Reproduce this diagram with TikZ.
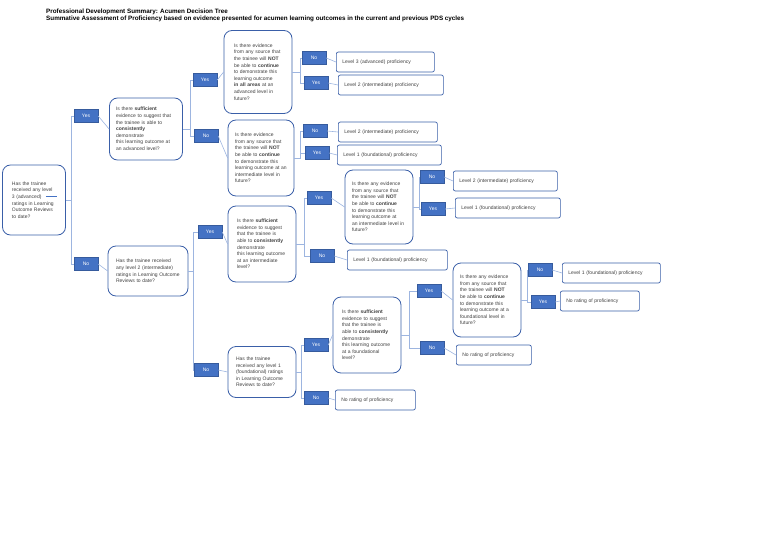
\documentclass[tikz,border=0pt]{standalone}
\usepackage{fontspec}
\setmainfont{Liberation Sans}
\hyphenpenalty=10000
\exhyphenpenalty=10000
\definecolor{ynblue}{HTML}{4472C4}
\definecolor{edge}{HTML}{3A5FA8}
\definecolor{lineblue}{HTML}{9DB5E0}
\definecolor{txt}{HTML}{404040}
\begin{document}
\begin{tikzpicture}[x=1pt,y=-1pt,
 q/.style={draw=edge,line width=0.8pt,rounded corners=8pt,align=left,text=txt,font=\fontsize{5}{6.6}\selectfont,inner sep=4pt},
 res/.style={draw=edge,line width=0.7pt,rounded corners=2pt,align=left,text=txt,font=\fontsize{5}{6.4}\selectfont,inner xsep=6pt,anchor=west,minimum height=20pt},
 yn/.style={fill=ynblue,draw=ynblue!80!black,text=white,minimum width=24pt,minimum height=13pt,inner sep=0pt,font=\fontsize{5}{6}\selectfont},
 ln/.style={draw=lineblue,line width=0.6pt}]
\useasboundingbox (0,0) rectangle (768,543);
\node[anchor=north west,align=left,font=\bfseries\fontsize{6.3}{7.2}\selectfont,inner sep=0pt] (title) at (46,9) {Professional Development Summary: Acumen Decision Tree\\Summative Assessment of Proficiency based on evidence presented for acumen learning outcomes in the current and previous PDS cycles};
% questions
\node[q,minimum width=63pt,minimum height=70pt,text width=44pt] (q1) at (34,200) {Has the trainee received any level 3 (advanced) ratings in Learning Outcome Reviews to date?};
\node[q,minimum width=73pt,minimum height=62pt,text width=60pt] (q2) at (146,129) {Is there \textbf{sufficient} evidence to suggest that the trainee is able to \textbf{consistently}\\demonstrate\\this learning outcome at an advanced level?};
\node[q,minimum width=68pt,minimum height=83pt,text width=48pt] (q3) at (258,72) {Is there evidence from any source that the trainee will \textbf{NOT} be able to \textbf{continue} to demonstrate this learning outcome \textbf{in all areas} at an advanced level in future?};
\node[q,minimum width=66pt,minimum height=76pt,text width=52pt] (q4) at (261,158) {Is there evidence from any source that the trainee will \textbf{NOT} be able to \textbf{continue} to demonstrate this learning outcome at an intermediate level in future?};
\node[q,minimum width=80pt,minimum height=50pt,text width=64pt] (q5) at (148,271) {Has the trainee received any level 2 (intermediate) ratings in Learning Outcome Reviews to date?};
\node[q,minimum width=68pt,minimum height=76pt,text width=50pt] (q6) at (262,244) {Is there \textbf{sufficient} evidence to suggest that the trainee is able to \textbf{consistently}\\demonstrate\\this learning outcome at an intermediate level?};
\node[q,minimum width=68pt,minimum height=74pt,text width=54pt] (q7) at (379,207) {Is there any evidence from any source that the trainee will \textbf{NOT} be able to \textbf{continue} to demonstrate this learning outcome at an intermediate level in future?};
\node[q,minimum width=68pt,minimum height=51pt,text width=52pt] (q8) at (262,372) {Has the trainee received any level 1 (foundational) ratings in Learning Outcome Reviews to date?};
\node[q,minimum width=68pt,minimum height=76pt,text width=50pt] (q9) at (367,335) {Is there \textbf{sufficient} evidence to suggest that the trainee is able to \textbf{consistently}\\demonstrate\\this learning outcome at a foundational level?};
\node[q,minimum width=68pt,minimum height=74pt,text width=54pt] (q10) at (487,300) {Is there any evidence from any source that the trainee will \textbf{NOT} be able to \textbf{continue} to demonstrate this learning outcome at a foundational level in future?};
% yes/no
\node[yn] (y1) at (86,116) {Yes}; \node[yn] (n1) at (86,264) {No};
\node[yn] (y2) at (205,80) {Yes}; \node[yn] (n2) at (206,136) {No};
\node[yn] (n3) at (314,58) {No}; \node[yn] (y3) at (316,83) {Yes};
\node[yn] (n4) at (315,131) {No}; \node[yn] (y4) at (317,153) {Yes};
\node[yn] (y5) at (210,232) {Yes}; \node[yn] (n5) at (206,370) {No};
\node[yn] (y6) at (319,198) {Yes}; \node[yn] (n6) at (322,256) {No};
\node[yn] (n7) at (432,177) {No}; \node[yn] (y7) at (433,209) {Yes};
\node[yn] (y8) at (316,345) {Yes}; \node[yn] (n8) at (316,398) {No};
\node[yn] (y9) at (429,291) {Yes}; \node[yn] (n9) at (432,348) {No};
\node[yn] (n10) at (540,270) {No}; \node[yn] (y10) at (543,302) {Yes};
% results
\node[res,text width=86pt] (r3n) at (336,62) {Level 3 (advanced) proficiency};
\node[res,text width=93pt] (r3y) at (338,85) {Level 2 (intermediate) proficiency};
\node[res,text width=87pt] (r4n) at (338,132) {Level 2 (intermediate) proficiency};
\node[res,text width=92pt] (r4y) at (337,155) {Level 1 (foundational) proficiency};
\node[res,text width=88pt] (r6n) at (347,260) {Level 1 (foundational) proficiency};
\node[res,text width=92pt] (r7n) at (453,181) {Level 2 (intermediate) proficiency};
\node[res,text width=93pt] (r7y) at (455,208) {Level 1 (foundational) proficiency};
\node[res,text width=68pt] (r8n) at (335,400) {No rating of proficiency};
\node[res,text width=63pt] (r9n) at (456,355) {No rating of proficiency};
\node[res,text width=86pt] (r10n) at (562,273) {Level 1 (foundational) proficiency};
\node[res,text width=67pt] (r10y) at (560,301) {No rating of proficiency};
% connectors
\foreach \p/\a/\b/\d in {q1/y1/n1/5, q2/y2/n2/7, q3/n3/y3/8, q4/n4/y4/6, q5/y5/n5/5, q6/y6/n6/8, q7/n7/y7/6, q8/y8/n8/5, q9/y9/n9/8, q10/n10/y10/6}{
  \draw[ln] (\p.east) -- ++(\d,0) coordinate (c\p) |- (\a.west);
  \draw[ln] (c\p) |- (\b.west);
}
\draw[ln,draw=ynblue,line width=0.8pt] (q1.east) ++(-20,-4) -- ++(11,0);
\foreach \a/\b in {y1/q2,n1/q5,y2/q3,n2/q4,n3/r3n,y3/r3y,n4/r4n,y4/r4y,y5/q6,n5/q8,y6/q7,n6/r6n,n7/r7n,y7/r7y,y8/q9,n8/r8n,y9/q10,n9/r9n,n10/r10n,y10/r10y}
  \draw[ln] (\a.east) -- (\b.west);
\end{tikzpicture}
\end{document}
